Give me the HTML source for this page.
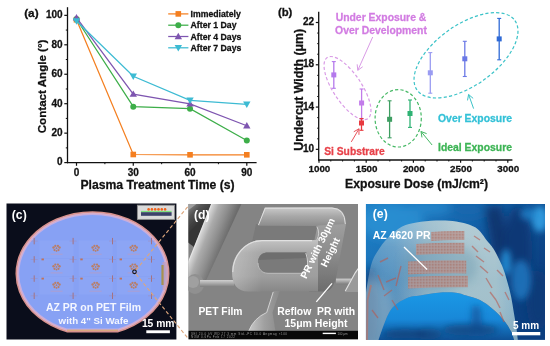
<!DOCTYPE html>
<html><head><meta charset="utf-8"><title>Figure</title>
<style>html,body{margin:0;padding:0;background:#fff;}svg{display:block;}</style></head>
<body><svg width="550" height="346" viewBox="0 0 550 346" font-family="Liberation Sans, Arial, sans-serif" font-weight="bold">
<rect width="550" height="346" fill="#fff"/>
<g>
<line x1="67.50" y1="7.20" x2="67.50" y2="163.20" stroke="#111" stroke-width="1.3" />
<line x1="66.90" y1="162.60" x2="256.60" y2="162.60" stroke="#111" stroke-width="1.3" />
<line x1="64.30" y1="162.60" x2="67.50" y2="162.60" stroke="#111" stroke-width="1.2" />
<text x="62.60" y="165.40" font-size="10.0" fill="#111" text-anchor="end" stroke="#111" stroke-width="0.28" >0</text>
<line x1="64.30" y1="133.15" x2="67.50" y2="133.15" stroke="#111" stroke-width="1.2" />
<text x="62.60" y="135.95" font-size="10.0" fill="#111" text-anchor="end" stroke="#111" stroke-width="0.28" >20</text>
<line x1="64.30" y1="103.70" x2="67.50" y2="103.70" stroke="#111" stroke-width="1.2" />
<text x="62.60" y="106.50" font-size="10.0" fill="#111" text-anchor="end" stroke="#111" stroke-width="0.28" >40</text>
<line x1="64.30" y1="74.25" x2="67.50" y2="74.25" stroke="#111" stroke-width="1.2" />
<text x="62.60" y="77.05" font-size="10.0" fill="#111" text-anchor="end" stroke="#111" stroke-width="0.28" >60</text>
<line x1="64.30" y1="44.80" x2="67.50" y2="44.80" stroke="#111" stroke-width="1.2" />
<text x="62.60" y="47.60" font-size="10.0" fill="#111" text-anchor="end" stroke="#111" stroke-width="0.28" >80</text>
<line x1="64.30" y1="15.35" x2="67.50" y2="15.35" stroke="#111" stroke-width="1.2" />
<text x="62.60" y="18.15" font-size="10.0" fill="#111" text-anchor="end" stroke="#111" stroke-width="0.28" >100</text>
<line x1="65.80" y1="147.88" x2="67.50" y2="147.88" stroke="#111" stroke-width="1.0" />
<line x1="65.80" y1="118.42" x2="67.50" y2="118.42" stroke="#111" stroke-width="1.0" />
<line x1="65.80" y1="88.97" x2="67.50" y2="88.97" stroke="#111" stroke-width="1.0" />
<line x1="65.80" y1="59.53" x2="67.50" y2="59.53" stroke="#111" stroke-width="1.0" />
<line x1="65.80" y1="30.07" x2="67.50" y2="30.07" stroke="#111" stroke-width="1.0" />
<line x1="76.50" y1="162.60" x2="76.50" y2="165.80" stroke="#111" stroke-width="1.2" />
<text x="76.50" y="175.90" font-size="10.0" fill="#111" text-anchor="middle" stroke="#111" stroke-width="0.28" >0</text>
<line x1="133.27" y1="162.60" x2="133.27" y2="165.80" stroke="#111" stroke-width="1.2" />
<text x="133.27" y="175.90" font-size="10.0" fill="#111" text-anchor="middle" stroke="#111" stroke-width="0.28" >30</text>
<line x1="190.03" y1="162.60" x2="190.03" y2="165.80" stroke="#111" stroke-width="1.2" />
<text x="190.03" y="175.90" font-size="10.0" fill="#111" text-anchor="middle" stroke="#111" stroke-width="0.28" >60</text>
<line x1="246.80" y1="162.60" x2="246.80" y2="165.80" stroke="#111" stroke-width="1.2" />
<text x="246.80" y="175.90" font-size="10.0" fill="#111" text-anchor="middle" stroke="#111" stroke-width="0.28" >90</text>
<line x1="104.88" y1="162.60" x2="104.88" y2="164.20" stroke="#111" stroke-width="1.0" />
<line x1="161.65" y1="162.60" x2="161.65" y2="164.20" stroke="#111" stroke-width="1.0" />
<line x1="218.42" y1="162.60" x2="218.42" y2="164.20" stroke="#111" stroke-width="1.0" />
<text x="157.50" y="189.00" font-size="12.2" fill="#111" text-anchor="middle" stroke="#111" stroke-width="0.28" >Plasma Treatment Time (s)</text>
<text x="46.10" y="86.40" font-size="11.6" fill="#111" text-anchor="middle" stroke="#111" stroke-width="0.28" transform="rotate(-90 46.1 86.4)">Contact Angle (°)</text>
<text x="24.20" y="16.50" font-size="11.8" fill="#111" text-anchor="start" stroke="#111" stroke-width="0.28" >(a)</text>
<polyline points="76.50,19.77 133.27,154.50 190.03,154.80 246.80,154.80" fill="none" stroke="#F47F20" stroke-width="1.25"/>
<rect x="73.70" y="16.97" width="5.6" height="5.6" fill="#F47F20"/>
<rect x="130.47" y="151.70" width="5.6" height="5.6" fill="#F47F20"/>
<rect x="187.23" y="152.00" width="5.6" height="5.6" fill="#F47F20"/>
<rect x="244.00" y="152.00" width="5.6" height="5.6" fill="#F47F20"/>
<polyline points="76.50,19.03 133.27,106.64 190.03,108.71 246.80,140.51" fill="none" stroke="#3DAE49" stroke-width="1.25"/>
<circle cx="76.50" cy="19.03" r="3.00" fill="#3DAE49"/>
<circle cx="133.27" cy="106.64" r="3.00" fill="#3DAE49"/>
<circle cx="190.03" cy="108.71" r="3.00" fill="#3DAE49"/>
<circle cx="246.80" cy="140.51" r="3.00" fill="#3DAE49"/>
<polyline points="76.50,17.71 133.27,94.13 190.03,103.85 246.80,125.79" fill="none" stroke="#7E55B0" stroke-width="1.25"/>
<polygon points="76.50,14.01 80.20,20.41 72.80,20.41" fill="#7E55B0"/>
<polygon points="133.27,90.43 136.97,96.83 129.57,96.83" fill="#7E55B0"/>
<polygon points="190.03,100.15 193.73,106.55 186.33,106.55" fill="#7E55B0"/>
<polygon points="246.80,122.09 250.50,128.49 243.10,128.49" fill="#7E55B0"/>
<polyline points="76.50,20.95 133.27,76.31 190.03,100.31 246.80,104.29" fill="none" stroke="#3DBBD3" stroke-width="1.25"/>
<polygon points="76.50,24.65 80.20,18.25 72.80,18.25" fill="#3DBBD3"/>
<polygon points="133.27,80.01 136.97,73.61 129.57,73.61" fill="#3DBBD3"/>
<polygon points="190.03,104.01 193.73,97.61 186.33,97.61" fill="#3DBBD3"/>
<polygon points="246.80,107.99 250.50,101.59 243.10,101.59" fill="#3DBBD3"/>
<line x1="168.20" y1="13.90" x2="188.40" y2="13.90" stroke="#F47F20" stroke-width="1.25" />
<rect x="175.50" y="11.10" width="5.6" height="5.6" fill="#F47F20"/>
<text x="190.60" y="17.00" font-size="8.7" fill="#111" text-anchor="start" stroke="#111" stroke-width="0.28" >Immediately</text>
<line x1="168.20" y1="25.20" x2="188.40" y2="25.20" stroke="#3DAE49" stroke-width="1.25" />
<circle cx="178.30" cy="25.20" r="3.00" fill="#3DAE49"/>
<text x="190.60" y="28.30" font-size="8.7" fill="#111" text-anchor="start" stroke="#111" stroke-width="0.28" >After 1 Day</text>
<line x1="168.20" y1="36.50" x2="188.40" y2="36.50" stroke="#7E55B0" stroke-width="1.25" />
<polygon points="178.30,32.80 182.00,39.20 174.60,39.20" fill="#7E55B0"/>
<text x="190.60" y="39.60" font-size="8.7" fill="#111" text-anchor="start" stroke="#111" stroke-width="0.28" >After 4 Days</text>
<line x1="168.20" y1="47.80" x2="188.40" y2="47.80" stroke="#3DBBD3" stroke-width="1.25" />
<polygon points="178.30,51.50 182.00,45.10 174.60,45.10" fill="#3DBBD3"/>
<text x="190.60" y="50.90" font-size="8.7" fill="#111" text-anchor="start" stroke="#111" stroke-width="0.28" >After 7 Days</text>
</g>
<line x1="318.70" y1="11.70" x2="318.70" y2="160.60" stroke="#111" stroke-width="1.3" />
<line x1="318.10" y1="160.00" x2="512.40" y2="160.00" stroke="#111" stroke-width="1.3" />
<line x1="315.80" y1="149.34" x2="318.70" y2="149.34" stroke="#111" stroke-width="1.2" />
<text x="314.00" y="151.84" font-size="10.0" fill="#111" text-anchor="end" stroke="#111" stroke-width="0.28" >10</text>
<line x1="317.20" y1="138.77" x2="318.70" y2="138.77" stroke="#111" stroke-width="1.0" />
<line x1="317.20" y1="128.20" x2="318.70" y2="128.20" stroke="#111" stroke-width="1.0" />
<line x1="317.20" y1="117.63" x2="318.70" y2="117.63" stroke="#111" stroke-width="1.0" />
<line x1="315.80" y1="107.06" x2="318.70" y2="107.06" stroke="#111" stroke-width="1.2" />
<text x="314.00" y="109.56" font-size="10.0" fill="#111" text-anchor="end" stroke="#111" stroke-width="0.28" >14</text>
<line x1="317.20" y1="96.49" x2="318.70" y2="96.49" stroke="#111" stroke-width="1.0" />
<line x1="317.20" y1="85.92" x2="318.70" y2="85.92" stroke="#111" stroke-width="1.0" />
<line x1="317.20" y1="75.35" x2="318.70" y2="75.35" stroke="#111" stroke-width="1.0" />
<line x1="315.80" y1="64.78" x2="318.70" y2="64.78" stroke="#111" stroke-width="1.2" />
<text x="314.00" y="67.28" font-size="10.0" fill="#111" text-anchor="end" stroke="#111" stroke-width="0.28" >18</text>
<line x1="317.20" y1="54.21" x2="318.70" y2="54.21" stroke="#111" stroke-width="1.0" />
<line x1="317.20" y1="43.64" x2="318.70" y2="43.64" stroke="#111" stroke-width="1.0" />
<line x1="317.20" y1="33.07" x2="318.70" y2="33.07" stroke="#111" stroke-width="1.0" />
<line x1="315.80" y1="22.50" x2="318.70" y2="22.50" stroke="#111" stroke-width="1.2" />
<text x="314.00" y="25.00" font-size="10.0" fill="#111" text-anchor="end" stroke="#111" stroke-width="0.28" >22</text>
<line x1="319.00" y1="160.00" x2="319.00" y2="162.80" stroke="#111" stroke-width="1.2" />
<text x="319.40" y="172.10" font-size="9.8" fill="#111" text-anchor="middle" stroke="#111" stroke-width="0.28" >1000</text>
<line x1="330.80" y1="160.00" x2="330.80" y2="161.50" stroke="#111" stroke-width="1.0" />
<line x1="342.60" y1="160.00" x2="342.60" y2="161.50" stroke="#111" stroke-width="1.0" />
<line x1="354.40" y1="160.00" x2="354.40" y2="161.50" stroke="#111" stroke-width="1.0" />
<line x1="366.20" y1="160.00" x2="366.20" y2="162.80" stroke="#111" stroke-width="1.2" />
<text x="366.60" y="172.10" font-size="9.8" fill="#111" text-anchor="middle" stroke="#111" stroke-width="0.28" >1500</text>
<line x1="378.00" y1="160.00" x2="378.00" y2="161.50" stroke="#111" stroke-width="1.0" />
<line x1="389.80" y1="160.00" x2="389.80" y2="161.50" stroke="#111" stroke-width="1.0" />
<line x1="401.60" y1="160.00" x2="401.60" y2="161.50" stroke="#111" stroke-width="1.0" />
<line x1="413.40" y1="160.00" x2="413.40" y2="162.80" stroke="#111" stroke-width="1.2" />
<text x="413.80" y="172.10" font-size="9.8" fill="#111" text-anchor="middle" stroke="#111" stroke-width="0.28" >2000</text>
<line x1="425.20" y1="160.00" x2="425.20" y2="161.50" stroke="#111" stroke-width="1.0" />
<line x1="437.00" y1="160.00" x2="437.00" y2="161.50" stroke="#111" stroke-width="1.0" />
<line x1="448.80" y1="160.00" x2="448.80" y2="161.50" stroke="#111" stroke-width="1.0" />
<line x1="460.60" y1="160.00" x2="460.60" y2="162.80" stroke="#111" stroke-width="1.2" />
<text x="461.00" y="172.10" font-size="9.8" fill="#111" text-anchor="middle" stroke="#111" stroke-width="0.28" >2500</text>
<line x1="472.40" y1="160.00" x2="472.40" y2="161.50" stroke="#111" stroke-width="1.0" />
<line x1="484.20" y1="160.00" x2="484.20" y2="161.50" stroke="#111" stroke-width="1.0" />
<line x1="496.00" y1="160.00" x2="496.00" y2="161.50" stroke="#111" stroke-width="1.0" />
<line x1="507.80" y1="160.00" x2="507.80" y2="162.80" stroke="#111" stroke-width="1.2" />
<text x="508.20" y="172.10" font-size="9.8" fill="#111" text-anchor="middle" stroke="#111" stroke-width="0.28" >3000</text>
<text x="416.50" y="188.20" font-size="12.2" fill="#111" text-anchor="middle" stroke="#111" stroke-width="0.28" >Exposure Dose (mJ/cm²)</text>
<text x="303.40" y="89.80" font-size="12.35" fill="#111" text-anchor="middle" stroke="#111" stroke-width="0.28" transform="rotate(-90 303.4 89.8)">Undercut Width (μm)</text>
<text x="277.90" y="15.50" font-size="11.3" fill="#111" text-anchor="start" stroke="#111" stroke-width="0.28" >(b)</text>
<ellipse cx="347.5" cy="88.1" rx="36.7" ry="14.2" transform="rotate(56.5 347.5 88.1)" fill="none" stroke="#D99BE6" stroke-width="1.2" stroke-dasharray="3.2 2.2"/>
<ellipse cx="398.2" cy="118.3" rx="23.1" ry="28.7" fill="none" stroke="#45B864" stroke-width="1.2" stroke-dasharray="3.2 2.2"/>
<ellipse cx="466" cy="55.3" rx="60" ry="30.4" transform="rotate(-35.4 466 55.3)" fill="none" stroke="#3CC3C8" stroke-width="1.2" stroke-dasharray="3.2 2.2"/>
<line x1="333.80" y1="61.60" x2="333.80" y2="88.30" stroke="#B479EC" stroke-width="1.3" />
<line x1="331.80" y1="61.60" x2="335.80" y2="61.60" stroke="#B479EC" stroke-width="1.1" />
<line x1="331.80" y1="88.30" x2="335.80" y2="88.30" stroke="#B479EC" stroke-width="1.1" />
<rect x="331.30" y="72.40" width="5" height="5" fill="#B479EC"/>
<line x1="361.60" y1="89.00" x2="361.60" y2="118.80" stroke="#C27BEA" stroke-width="1.3" />
<line x1="359.60" y1="89.00" x2="363.60" y2="89.00" stroke="#C27BEA" stroke-width="1.1" />
<line x1="359.60" y1="118.80" x2="363.60" y2="118.80" stroke="#C27BEA" stroke-width="1.1" />
<rect x="359.10" y="100.50" width="5" height="5" fill="#C27BEA"/>
<line x1="361.50" y1="118.50" x2="361.50" y2="130.30" stroke="#E83A3F" stroke-width="1.3" />
<line x1="359.50" y1="118.50" x2="363.50" y2="118.50" stroke="#E83A3F" stroke-width="1.1" />
<line x1="359.50" y1="130.30" x2="363.50" y2="130.30" stroke="#E83A3F" stroke-width="1.1" />
<rect x="359.00" y="120.50" width="5" height="5" fill="#E83A3F"/>
<line x1="389.60" y1="100.80" x2="389.60" y2="137.80" stroke="#3E9E62" stroke-width="1.3" />
<line x1="387.60" y1="100.80" x2="391.60" y2="100.80" stroke="#3E9E62" stroke-width="1.1" />
<line x1="387.60" y1="137.80" x2="391.60" y2="137.80" stroke="#3E9E62" stroke-width="1.1" />
<rect x="387.10" y="116.80" width="5" height="5" fill="#3E9E62"/>
<line x1="410.00" y1="100.00" x2="410.00" y2="127.40" stroke="#2FB274" stroke-width="1.3" />
<line x1="408.00" y1="100.00" x2="412.00" y2="100.00" stroke="#2FB274" stroke-width="1.1" />
<line x1="408.00" y1="127.40" x2="412.00" y2="127.40" stroke="#2FB274" stroke-width="1.1" />
<rect x="407.50" y="111.00" width="5" height="5" fill="#2FB274"/>
<line x1="430.30" y1="52.60" x2="430.30" y2="93.20" stroke="#9A9CF2" stroke-width="1.3" />
<line x1="428.30" y1="52.60" x2="432.30" y2="52.60" stroke="#9A9CF2" stroke-width="1.1" />
<line x1="428.30" y1="93.20" x2="432.30" y2="93.20" stroke="#9A9CF2" stroke-width="1.1" />
<rect x="427.80" y="70.30" width="5" height="5" fill="#9A9CF2"/>
<line x1="464.80" y1="41.30" x2="464.80" y2="76.50" stroke="#6A78E6" stroke-width="1.3" />
<line x1="462.80" y1="41.30" x2="466.80" y2="41.30" stroke="#6A78E6" stroke-width="1.1" />
<line x1="462.80" y1="76.50" x2="466.80" y2="76.50" stroke="#6A78E6" stroke-width="1.1" />
<rect x="462.30" y="56.30" width="5" height="5" fill="#6A78E6"/>
<line x1="499.20" y1="18.40" x2="499.20" y2="59.80" stroke="#2F6AD6" stroke-width="1.3" />
<line x1="497.20" y1="18.40" x2="501.20" y2="18.40" stroke="#2F6AD6" stroke-width="1.1" />
<line x1="497.20" y1="59.80" x2="501.20" y2="59.80" stroke="#2F6AD6" stroke-width="1.1" />
<rect x="496.70" y="36.40" width="5" height="5" fill="#2F6AD6"/>
<text x="381.00" y="20.60" font-size="10.4" fill="#D27CE2" text-anchor="middle" stroke="#D27CE2" stroke-width="0.28" >Under Exposure &amp;</text>
<text x="381.00" y="34.00" font-size="10.4" fill="#D27CE2" text-anchor="middle" stroke="#D27CE2" stroke-width="0.28" >Over Development</text>
<text x="354.50" y="155.40" font-size="10.3" fill="#E8424A" text-anchor="middle" stroke="#E8424A" stroke-width="0.28" >Si Substrare</text>
<text x="475.00" y="122.00" font-size="10.4" fill="#33C1D7" text-anchor="middle" stroke="#33C1D7" stroke-width="0.28" >Over Exposure</text>
<text x="475.00" y="151.10" font-size="10.4" fill="#3DB455" text-anchor="middle" stroke="#3DB455" stroke-width="0.28" >Ideal Exposure</text>
<line x1="372.70" y1="37.00" x2="357.80" y2="70.30" stroke="#D99BE6" stroke-width="1.0" />
<line x1="357.80" y1="70.30" x2="357.18" y2="64.33" stroke="#D99BE6" stroke-width="1.0" />
<line x1="357.80" y1="70.30" x2="362.66" y2="66.78" stroke="#D99BE6" stroke-width="1.0" />
<line x1="351.30" y1="141.90" x2="359.00" y2="128.80" stroke="#E8525A" stroke-width="1.0" />
<line x1="359.00" y1="128.80" x2="358.95" y2="134.80" stroke="#E8525A" stroke-width="1.0" />
<line x1="359.00" y1="128.80" x2="353.78" y2="131.76" stroke="#E8525A" stroke-width="1.0" />
<line x1="473.60" y1="108.60" x2="468.60" y2="94.50" stroke="#3CC3C8" stroke-width="1.0" />
<line x1="468.60" y1="94.50" x2="473.16" y2="98.39" stroke="#3CC3C8" stroke-width="1.0" />
<line x1="468.60" y1="94.50" x2="467.51" y2="100.40" stroke="#3CC3C8" stroke-width="1.0" />
<line x1="432.10" y1="145.00" x2="421.00" y2="131.50" stroke="#45B864" stroke-width="1.0" />
<line x1="421.00" y1="131.50" x2="426.62" y2="133.61" stroke="#45B864" stroke-width="1.0" />
<line x1="421.00" y1="131.50" x2="421.98" y2="137.42" stroke="#45B864" stroke-width="1.0" />
<rect x="6.5" y="203.5" width="169.9" height="136" fill="#0A0D1B"/>
<clipPath id="cc"><rect x="6.5" y="203.5" width="169.9" height="136"/></clipPath>
<clipPath id="wafer"><path d="M67,330.8 L118,330.8 A75.4,60.8 0 1 0 67,330.8 Z"/></clipPath>
<filter id="blc" x="-10%" y="-10%" width="120%" height="120%"><feGaussianBlur stdDeviation="0.5"/></filter>
<g clip-path="url(#cc)">
<path d="M67,330.8 L118,330.8 A75.4,60.8 0 1 0 67,330.8 Z" fill="#87A1F4" stroke="#D8928E" stroke-width="3.2" filter="url(#blc)"/>
<g clip-path="url(#wafer)">
<path d="M67,330.8 L118,330.8 A75.4,60.8 0 1 0 67,330.8 Z" fill="none" stroke="#C8B4EC" stroke-width="4.4" opacity="0.75"/><path d="M67,330.8 L118,330.8 A75.4,60.8 0 1 0 67,330.8 Z" fill="none" stroke="#E0B0C0" stroke-width="1.6" opacity="0.9"/>
<path d="M162.5,262 L168,262 L168,290 L162.5,290 Z" fill="#C8A0B8" opacity="0.7"/><rect x="161.4" y="265" width="2.2" height="20" fill="#A89040" opacity="0.9"/>
<rect x="39.5" y="240.5" width="34" height="17.5" fill="#96ACF6" opacity="0.35"/>
<rect x="39.5" y="258.9" width="34" height="17.5" fill="#96ACF6" opacity="0.35"/>
<rect x="39.5" y="277.0" width="34" height="17.5" fill="#96ACF6" opacity="0.35"/>
<rect x="78.6" y="240.5" width="34" height="17.5" fill="#96ACF6" opacity="0.35"/>
<rect x="78.6" y="258.9" width="34" height="17.5" fill="#96ACF6" opacity="0.35"/>
<rect x="78.6" y="277.0" width="34" height="17.5" fill="#96ACF6" opacity="0.35"/>
<rect x="116.69999999999999" y="240.5" width="34" height="17.5" fill="#96ACF6" opacity="0.35"/>
<rect x="116.69999999999999" y="258.9" width="34" height="17.5" fill="#96ACF6" opacity="0.35"/>
<rect x="116.69999999999999" y="277.0" width="34" height="17.5" fill="#96ACF6" opacity="0.35"/>
<line x1="34.2" y1="237.9" x2="34.2" y2="244.29999999999998" stroke="#A86A6E" stroke-width="1" opacity="0.85"/><line x1="30.700000000000003" y1="241.1" x2="37.7" y2="241.1" stroke="#B08090" stroke-width="0.6" opacity="0.55"/>
<line x1="34.2" y1="256.2" x2="34.2" y2="262.59999999999997" stroke="#A86A6E" stroke-width="1" opacity="0.85"/><line x1="30.700000000000003" y1="259.4" x2="37.7" y2="259.4" stroke="#B08090" stroke-width="0.6" opacity="0.55"/>
<line x1="34.2" y1="275.40000000000003" x2="34.2" y2="281.8" stroke="#A86A6E" stroke-width="1" opacity="0.85"/><line x1="30.700000000000003" y1="278.6" x2="37.7" y2="278.6" stroke="#B08090" stroke-width="0.6" opacity="0.55"/>
<line x1="34.2" y1="292.6" x2="34.2" y2="299.0" stroke="#A86A6E" stroke-width="1" opacity="0.85"/><line x1="30.700000000000003" y1="295.8" x2="37.7" y2="295.8" stroke="#B08090" stroke-width="0.6" opacity="0.55"/>
<line x1="73.1" y1="237.9" x2="73.1" y2="244.29999999999998" stroke="#A86A6E" stroke-width="1" opacity="0.85"/><line x1="69.6" y1="241.1" x2="76.6" y2="241.1" stroke="#B08090" stroke-width="0.6" opacity="0.55"/>
<line x1="73.1" y1="256.2" x2="73.1" y2="262.59999999999997" stroke="#A86A6E" stroke-width="1" opacity="0.85"/><line x1="69.6" y1="259.4" x2="76.6" y2="259.4" stroke="#B08090" stroke-width="0.6" opacity="0.55"/>
<line x1="73.1" y1="275.40000000000003" x2="73.1" y2="281.8" stroke="#A86A6E" stroke-width="1" opacity="0.85"/><line x1="69.6" y1="278.6" x2="76.6" y2="278.6" stroke="#B08090" stroke-width="0.6" opacity="0.55"/>
<line x1="73.1" y1="292.6" x2="73.1" y2="299.0" stroke="#A86A6E" stroke-width="1" opacity="0.85"/><line x1="69.6" y1="295.8" x2="76.6" y2="295.8" stroke="#B08090" stroke-width="0.6" opacity="0.55"/>
<line x1="112.5" y1="237.9" x2="112.5" y2="244.29999999999998" stroke="#A86A6E" stroke-width="1" opacity="0.85"/><line x1="109.0" y1="241.1" x2="116.0" y2="241.1" stroke="#B08090" stroke-width="0.6" opacity="0.55"/>
<line x1="112.5" y1="256.2" x2="112.5" y2="262.59999999999997" stroke="#A86A6E" stroke-width="1" opacity="0.85"/><line x1="109.0" y1="259.4" x2="116.0" y2="259.4" stroke="#B08090" stroke-width="0.6" opacity="0.55"/>
<line x1="112.5" y1="275.40000000000003" x2="112.5" y2="281.8" stroke="#A86A6E" stroke-width="1" opacity="0.85"/><line x1="109.0" y1="278.6" x2="116.0" y2="278.6" stroke="#B08090" stroke-width="0.6" opacity="0.55"/>
<line x1="112.5" y1="292.6" x2="112.5" y2="299.0" stroke="#A86A6E" stroke-width="1" opacity="0.85"/><line x1="109.0" y1="295.8" x2="116.0" y2="295.8" stroke="#B08090" stroke-width="0.6" opacity="0.55"/>
<line x1="151.5" y1="237.9" x2="151.5" y2="244.29999999999998" stroke="#A86A6E" stroke-width="1" opacity="0.85"/><line x1="148.0" y1="241.1" x2="155.0" y2="241.1" stroke="#B08090" stroke-width="0.6" opacity="0.55"/>
<line x1="151.5" y1="256.2" x2="151.5" y2="262.59999999999997" stroke="#A86A6E" stroke-width="1" opacity="0.85"/><line x1="148.0" y1="259.4" x2="155.0" y2="259.4" stroke="#B08090" stroke-width="0.6" opacity="0.55"/>
<line x1="151.5" y1="275.40000000000003" x2="151.5" y2="281.8" stroke="#A86A6E" stroke-width="1" opacity="0.85"/><line x1="148.0" y1="278.6" x2="155.0" y2="278.6" stroke="#B08090" stroke-width="0.6" opacity="0.55"/>
<line x1="151.5" y1="292.6" x2="151.5" y2="299.0" stroke="#A86A6E" stroke-width="1" opacity="0.85"/><line x1="148.0" y1="295.8" x2="155.0" y2="295.8" stroke="#B08090" stroke-width="0.6" opacity="0.55"/>
<rect x="41.5" y="258.5" width="2.4" height="1.8" fill="#C8683E" opacity="0.85"/>
<rect x="41.5" y="277.70000000000005" width="2.4" height="1.8" fill="#C8683E" opacity="0.85"/>
<rect x="80.3" y="258.5" width="2.4" height="1.8" fill="#C8683E" opacity="0.85"/>
<rect x="80.3" y="277.70000000000005" width="2.4" height="1.8" fill="#C8683E" opacity="0.85"/>
<rect x="119.6" y="258.5" width="2.4" height="1.8" fill="#C8683E" opacity="0.85"/>
<rect x="119.6" y="277.70000000000005" width="2.4" height="1.8" fill="#C8683E" opacity="0.85"/>
<g fill="#BE7A58" opacity="0.9"><circle cx="53.5" cy="247.5" r="1.2"/><circle cx="59.5" cy="247.5" r="1.2"/><circle cx="55.3" cy="245.9" r="1.1"/><circle cx="57.9" cy="245.9" r="1.1"/><circle cx="54.5" cy="250.1" r="1.1"/><circle cx="58.5" cy="250.1" r="1.1"/><circle cx="56.5" cy="250.9" r="0.9"/><circle cx="56.5" cy="248.2" r="0.9"/></g>
<rect x="50.5" y="253.7" width="12" height="1" fill="#C49AB8" opacity="0.6"/>
<g fill="#BE7A58" opacity="0.9"><circle cx="53.5" cy="266.2" r="1.2"/><circle cx="59.5" cy="266.2" r="1.2"/><circle cx="55.3" cy="264.59999999999997" r="1.1"/><circle cx="57.9" cy="264.59999999999997" r="1.1"/><circle cx="54.5" cy="268.8" r="1.1"/><circle cx="58.5" cy="268.8" r="1.1"/><circle cx="56.5" cy="269.59999999999997" r="0.9"/><circle cx="56.5" cy="266.9" r="0.9"/></g>
<rect x="50.5" y="272.4" width="12" height="1" fill="#C49AB8" opacity="0.6"/>
<g fill="#BE7A58" opacity="0.9"><circle cx="53.5" cy="284.5" r="1.2"/><circle cx="59.5" cy="284.5" r="1.2"/><circle cx="55.3" cy="282.9" r="1.1"/><circle cx="57.9" cy="282.9" r="1.1"/><circle cx="54.5" cy="287.1" r="1.1"/><circle cx="58.5" cy="287.1" r="1.1"/><circle cx="56.5" cy="287.9" r="0.9"/><circle cx="56.5" cy="285.2" r="0.9"/></g>
<rect x="50.5" y="290.7" width="12" height="1" fill="#C49AB8" opacity="0.6"/>
<g fill="#BE7A58" opacity="0.9"><circle cx="92.6" cy="247.5" r="1.2"/><circle cx="98.6" cy="247.5" r="1.2"/><circle cx="94.39999999999999" cy="245.9" r="1.1"/><circle cx="97.0" cy="245.9" r="1.1"/><circle cx="93.6" cy="250.1" r="1.1"/><circle cx="97.6" cy="250.1" r="1.1"/><circle cx="95.6" cy="250.9" r="0.9"/><circle cx="95.6" cy="248.2" r="0.9"/></g>
<rect x="89.6" y="253.7" width="12" height="1" fill="#C49AB8" opacity="0.6"/>
<g fill="#BE7A58" opacity="0.9"><circle cx="92.6" cy="266.2" r="1.2"/><circle cx="98.6" cy="266.2" r="1.2"/><circle cx="94.39999999999999" cy="264.59999999999997" r="1.1"/><circle cx="97.0" cy="264.59999999999997" r="1.1"/><circle cx="93.6" cy="268.8" r="1.1"/><circle cx="97.6" cy="268.8" r="1.1"/><circle cx="95.6" cy="269.59999999999997" r="0.9"/><circle cx="95.6" cy="266.9" r="0.9"/></g>
<rect x="89.6" y="272.4" width="12" height="1" fill="#C49AB8" opacity="0.6"/>
<g fill="#BE7A58" opacity="0.9"><circle cx="92.6" cy="284.5" r="1.2"/><circle cx="98.6" cy="284.5" r="1.2"/><circle cx="94.39999999999999" cy="282.9" r="1.1"/><circle cx="97.0" cy="282.9" r="1.1"/><circle cx="93.6" cy="287.1" r="1.1"/><circle cx="97.6" cy="287.1" r="1.1"/><circle cx="95.6" cy="287.9" r="0.9"/><circle cx="95.6" cy="285.2" r="0.9"/></g>
<rect x="89.6" y="290.7" width="12" height="1" fill="#C49AB8" opacity="0.6"/>
<g fill="#BE7A58" opacity="0.9"><circle cx="130.7" cy="247.5" r="1.2"/><circle cx="136.7" cy="247.5" r="1.2"/><circle cx="132.5" cy="245.9" r="1.1"/><circle cx="135.1" cy="245.9" r="1.1"/><circle cx="131.7" cy="250.1" r="1.1"/><circle cx="135.7" cy="250.1" r="1.1"/><circle cx="133.7" cy="250.9" r="0.9"/><circle cx="133.7" cy="248.2" r="0.9"/></g>
<rect x="127.69999999999999" y="253.7" width="12" height="1" fill="#C49AB8" opacity="0.6"/>
<g fill="#BE7A58" opacity="0.9"><circle cx="130.7" cy="266.2" r="1.2"/><circle cx="136.7" cy="266.2" r="1.2"/><circle cx="132.5" cy="264.59999999999997" r="1.1"/><circle cx="135.1" cy="264.59999999999997" r="1.1"/><circle cx="131.7" cy="268.8" r="1.1"/><circle cx="135.7" cy="268.8" r="1.1"/><circle cx="133.7" cy="269.59999999999997" r="0.9"/><circle cx="133.7" cy="266.9" r="0.9"/></g>
<rect x="127.69999999999999" y="272.4" width="12" height="1" fill="#C49AB8" opacity="0.6"/>
<g fill="#BE7A58" opacity="0.9"><circle cx="130.7" cy="284.5" r="1.2"/><circle cx="136.7" cy="284.5" r="1.2"/><circle cx="132.5" cy="282.9" r="1.1"/><circle cx="135.1" cy="282.9" r="1.1"/><circle cx="131.7" cy="287.1" r="1.1"/><circle cx="135.7" cy="287.1" r="1.1"/><circle cx="133.7" cy="287.9" r="0.9"/><circle cx="133.7" cy="285.2" r="0.9"/></g>
<rect x="127.69999999999999" y="290.7" width="12" height="1" fill="#C49AB8" opacity="0.6"/>
</g>
<line x1="67" y1="330.2" x2="118" y2="330.2" stroke="#D8A860" stroke-width="1"/>
</g>
<line x1="136" y1="270" x2="189.9" y2="204" stroke="#DDA67C" stroke-width="1.15" stroke-dasharray="3.6 2.4"/>
<line x1="136" y1="274" x2="188.5" y2="339" stroke="#DDA67C" stroke-width="1.15" stroke-dasharray="3.6 2.4"/>
<circle cx="134.5" cy="271.8" r="1.8" fill="none" stroke="#111" stroke-width="1.1"/>
<text x="11.80" y="218.90" font-size="12.2" fill="#fff" text-anchor="start" >(c)</text>
<text x="93.50" y="311.10" font-size="10.5" fill="#F4F6FF" text-anchor="middle" >AZ PR on PET Film</text>
<text x="93.50" y="323.80" font-size="9.75" fill="#F4F6FF" text-anchor="middle" >with 4" Si Wafe</text>
<text x="158.20" y="327.30" font-size="10.3" fill="#fff" text-anchor="middle" >15 mm</text>
<rect x="146.3" y="330.3" width="23.6" height="2.9" fill="#fff"/>
<rect x="137.4" y="205.2" width="37.2" height="14.2" fill="#DADADA" stroke="#8E8E8E" stroke-width="0.9"/>
<circle cx="148.60" cy="209.4" r="1.3" fill="#F0621C"/>
<circle cx="151.90" cy="209.4" r="1.3" fill="#F0621C"/>
<circle cx="155.20" cy="209.4" r="1.3" fill="#F0621C"/>
<circle cx="158.50" cy="209.4" r="1.3" fill="#F0621C"/>
<circle cx="161.80" cy="209.4" r="1.3" fill="#F0621C"/>
<circle cx="165.10" cy="209.4" r="1.3" fill="#F0621C"/>
<rect x="141" y="210.9" width="30.6" height="1.3" fill="#7DE27D"/>
<rect x="141" y="212.2" width="30.6" height="3.6" fill="#3B4169"/>
<defs><linearGradient id="tubeg" gradientUnits="userSpaceOnUse" x1="199.50" y1="233.00" x2="224.11" y2="242.83"><stop offset="0" stop-color="#F0F0F0"/><stop offset="0.06" stop-color="#D4D4D4"/><stop offset="0.3" stop-color="#ABABAB"/><stop offset="0.65" stop-color="#8E8E8E"/><stop offset="1" stop-color="#6C6C6C"/></linearGradient><linearGradient id="barg" gradientUnits="userSpaceOnUse" x1="0" y1="208" x2="0" y2="226"><stop offset="0" stop-color="#C8C8C8"/><stop offset="0.45" stop-color="#A8A8A8"/><stop offset="1" stop-color="#8C8C8C"/></linearGradient><linearGradient id="bowlg" gradientUnits="userSpaceOnUse" x1="0" y1="240" x2="0" y2="292"><stop offset="0" stop-color="#C2C2C2"/><stop offset="0.25" stop-color="#A6A6A6"/><stop offset="0.7" stop-color="#9E9E9E"/><stop offset="1" stop-color="#868686"/></linearGradient><linearGradient id="bowlh" gradientUnits="userSpaceOnUse" x1="232" y1="0" x2="262" y2="0"><stop offset="0" stop-color="#ffffff" stop-opacity="0.25"/><stop offset="1" stop-color="#ffffff" stop-opacity="0"/></linearGradient><linearGradient id="stemg" gradientUnits="userSpaceOnUse" x1="0" y1="222" x2="0" y2="292"><stop offset="0" stop-color="#A0A0A0"/><stop offset="0.45" stop-color="#8C8C8C"/><stop offset="1" stop-color="#6C6C6C"/></linearGradient><linearGradient id="hbar" x1="0" y1="0" x2="0" y2="1"><stop offset="0" stop-color="#D0D0D0"/><stop offset="0.5" stop-color="#A8A8A8"/><stop offset="1" stop-color="#7E7E7E"/></linearGradient><linearGradient id="footg" x1="0" y1="0" x2="1" y2="0"><stop offset="0" stop-color="#C8C8C8"/><stop offset="0.5" stop-color="#A0A0A0"/><stop offset="1" stop-color="#8A8A8A"/></linearGradient><linearGradient id="darkg" gradientUnits="userSpaceOnUse" x1="189" y1="205" x2="203" y2="219"><stop offset="0" stop-color="#8A8A8A"/><stop offset="0.45" stop-color="#545454"/><stop offset="1" stop-color="#363636"/></linearGradient><filter id="bl1" x="-20%" y="-20%" width="140%" height="140%"><feGaussianBlur stdDeviation="0.7"/></filter><filter id="bl2" x="-20%" y="-20%" width="140%" height="140%"><feGaussianBlur stdDeviation="1.5"/></filter></defs>
<rect x="188.4" y="204" width="169.6" height="135.4" fill="#848484"/>
<clipPath id="dc"><rect x="188.4" y="204" width="169.6" height="135.4"/></clipPath>
<g clip-path="url(#dc)">
<g filter="url(#bl1)">
<polygon points="186,211 194,202 212,202 194,247 186,241" fill="url(#darkg)"/>
<polygon points="186,202 199,202 186,212" fill="#A0A0A0"/>
<polygon points="211.9,202 242.4,202 205.3,282 186,282 186,266.8" fill="url(#tubeg)"/>
<ellipse cx="195" cy="284" rx="9" ry="10" fill="#909090"/>
<ellipse cx="193" cy="282" rx="6" ry="6" fill="#A0A0A0"/>
<rect x="200" y="280" width="34" height="7" fill="url(#hbar)"/>
<path d="M256,224 L316,224 Q322,233 316,242 L252,242 Z" fill="#7A7A7A"/>
<path d="M257.9,225.8 L264.8,207.6 L332,207.4 Q345.5,208 346,224 L345.5,226 L317.5,226 Z" fill="url(#barg)"/>
<path d="M317.5,225.5 L346,224 L341.2,250 L337,273.3 Q334,290 326,291.5 L309,291.5 L309.2,265 Z" fill="url(#stemg)"/>
<path fill-rule="evenodd" d="M314,240 L262,240 C244,240 232,256 232,272 C232,285 238,291.5 248,291.5 L318,291.5 L318,240 Z M306.4,252.5 L268,252.5 C261,252.5 258,257 258,262.9 C258,269 262,273.3 268,273.3 L306.4,273.3 Z" fill="url(#bowlg)"/>
<path d="M262,240 C244,240 232,256 232,272 C232,285 238,291.5 248,291.5 L262,291.5 Z" fill="url(#bowlh)"/>
<path d="M306.4,252.5 L268,252.5 C261,252.5 258,257 258,262.9 C258,269 262,273.3 268,273.3 L306.4,273.3 Q310,263 306.4,252.5 Z" fill="#7A7A7A"/>
<path d="M306,252.8 L268,252.8 C262,252.8 259,256 258.5,260 L306,258 Z" fill="#6A6A6A" opacity="0.7"/>
<path d="M232.8,272 C233,256 245,240.8 262,240.6 L312,240.6" fill="none" stroke="#E4E4E4" stroke-width="1.1" opacity="0.9"/>
<path d="M258.5,225 L265.2,208.2 L332,208 Q344.8,208.6 345.3,224" fill="none" stroke="#E6E6E6" stroke-width="1" opacity="0.9"/>
<path d="M305.8,253 Q309.5,263 305.8,273" fill="none" stroke="#D0D0D0" stroke-width="1"/>
<path d="M316.8,226.5 Q320.5,233 316.8,240" fill="none" stroke="#D0D0D0" stroke-width="1"/>
<path d="M258,262.9 C258,269 262,273.3 268,273.3 L306,273.3" fill="none" stroke="#C4C4C4" stroke-width="0.9"/>
<rect x="336" y="278.6" width="16" height="5.6" fill="url(#hbar)"/>
<path d="M344.8,292 L355.2,272.3 L359,267 L359,292 Z" fill="#9A9A9A"/>
<path d="M345.3,291 L355.4,272.6 L359,267.5" fill="none" stroke="#E4E4E4" stroke-width="1.1"/>
<path d="M273.2,291 L279.7,291 L272.5,312.5 Q274,322 275.4,331 L248.7,331 Q254,318 266.7,312.5 Z" fill="url(#footg)"/><path d="M273.2,292 L266.7,312.5 Q254,318 248.7,331" fill="none" stroke="#D8D8D8" stroke-width="0.9"/>
</g>
<rect x="188.4" y="330.8" width="169.6" height="8.6" fill="#080808"/>
<text x="191" y="334.6" font-size="3" fill="#9A9A9A" font-weight="normal" textLength="96" lengthAdjust="spacing">SEI   20.0 kV   WD 27.3 mm   Std.-PC 30.0   Angmag   ×100</text>
<text x="191" y="338.1" font-size="3" fill="#9A9A9A" font-weight="normal" textLength="44" lengthAdjust="spacing">NOM   0.6Pa   Feb 17 2022</text>
</g>
<text x="194.00" y="218.70" font-size="12.2" fill="#fff" text-anchor="start" >(d)</text>
<text x="220.50" y="315.10" font-size="10.3" fill="#fff" text-anchor="middle" >PET Film</text>
<text x="316.20" y="315.00" font-size="10.4" fill="#fff" text-anchor="middle" xml:space="preserve">Reflow  PR with</text>
<text x="316.00" y="327.30" font-size="10.5" fill="#fff" text-anchor="middle" >15μm Height</text>
<line x1="316.3" y1="301.9" x2="332" y2="283.4" stroke="#fff" stroke-width="1.3"/>
<g transform="translate(317.5,248.1) rotate(-64)"><text x="0" y="3.6" font-size="10" fill="#fff" text-anchor="middle">PR with 30μm</text><text x="1.9" y="16.8" font-size="10" fill="#fff" text-anchor="middle">Height</text></g>
<rect x="322.7" y="332.7" width="13.2" height="1.4" fill="#fff"/>
<text x="337.5" y="334.6" font-size="3" fill="#9A9A9A" font-weight="normal" textLength="10" lengthAdjust="spacing">100 μm</text>
<defs><linearGradient id="ebg" x1="0" y1="0" x2="1" y2="0.5"><stop offset="0" stop-color="#1F80C6"/><stop offset="0.5" stop-color="#1464AC"/><stop offset="1" stop-color="#0B3F80"/></linearGradient><linearGradient id="filmg" x1="0" y1="0" x2="1" y2="0"><stop offset="0" stop-color="#9AB8CC" stop-opacity="0.35"/><stop offset="0.2" stop-color="#9CBCCC" stop-opacity="0.5"/><stop offset="0.4" stop-color="#A2C0CA" stop-opacity="0.85"/><stop offset="0.6" stop-color="#A8C4CC" stop-opacity="0.97"/><stop offset="0.85" stop-color="#A8C5CE" stop-opacity="0.97"/><stop offset="1" stop-color="#98C2D6" stop-opacity="0.9"/></linearGradient><linearGradient id="filmv" x1="0" y1="0" x2="0" y2="1"><stop offset="0" stop-color="#ffffff" stop-opacity="0.18"/><stop offset="0.5" stop-color="#ffffff" stop-opacity="0"/><stop offset="1" stop-color="#000000" stop-opacity="0.08"/></linearGradient><linearGradient id="underg" x1="0" y1="0" x2="0" y2="1"><stop offset="0" stop-color="#1A98E6"/><stop offset="0.55" stop-color="#1888D8"/><stop offset="1" stop-color="#0E4E92"/></linearGradient><filter id="bl3" x="-50%" y="-50%" width="200%" height="200%"><feGaussianBlur stdDeviation="3"/></filter><filter id="bl5" x="-50%" y="-50%" width="200%" height="200%"><feGaussianBlur stdDeviation="5"/></filter><filter id="bl1e" x="-20%" y="-20%" width="140%" height="140%"><feGaussianBlur stdDeviation="0.6"/></filter><pattern id="dots" width="1.5" height="1.5" patternUnits="userSpaceOnUse"><rect width="1.5" height="1.5" fill="#BA9C98"/><rect width="0.9" height="0.9" fill="#B06C5E"/></pattern></defs>
<rect x="365.9" y="204.0" width="179.1" height="135.9" fill="url(#ebg)"/>
<clipPath id="ecl"><rect x="365.9" y="204.0" width="179.1" height="135.9"/></clipPath>
<g clip-path="url(#ecl)">
<g filter="url(#bl5)">
<ellipse cx="392" cy="222" rx="32" ry="18" fill="#2B90D4" opacity="0.85"/>
<ellipse cx="430" cy="208" rx="22" ry="8" fill="#2A8ACE" opacity="0.7"/>
<ellipse cx="468" cy="210" rx="18" ry="8" fill="#1568AE" opacity="0.8"/>
<path d="M484,206 L502,206 L510,262 L494,262 Z" fill="#08306A" opacity="0.9"/>
<ellipse cx="518" cy="250" rx="14" ry="44" fill="#0A3876"/>
<ellipse cx="538" cy="300" rx="12" ry="30" fill="#0A3A78"/>
<ellipse cx="370" cy="305" rx="8" ry="40" fill="#0C4482"/>
</g>
<g filter="url(#bl3)">
<ellipse cx="540" cy="219" rx="8" ry="13" fill="#2E98DC"/>
<ellipse cx="528" cy="214" rx="8" ry="6" fill="#1F80C8" opacity="0.8"/>
<ellipse cx="521" cy="280" rx="10" ry="20" fill="#1C74BC" opacity="0.9"/>
<ellipse cx="506" cy="262" rx="5" ry="13" fill="#2590D8" opacity="0.9"/>
</g>
<path d="M514.5,341.0 C513.9,339.3 512.7,334.5 510.9,331.0 C509.1,327.5 506.6,323.7 503.6,320.0 C500.6,316.3 496.6,312.3 492.7,309.0 C488.8,305.7 484.5,302.3 480.0,300.0 C475.5,297.7 469.5,296.5 465.5,295.3 C461.5,294.1 460.6,293.1 456.0,292.7 C451.4,292.3 444.0,292.2 438.0,292.7 C432.0,293.2 425.2,294.6 420.0,295.5 C414.8,296.4 411.4,295.8 406.5,298.3 C401.6,300.8 395.1,303.4 390.3,310.5 C385.6,317.6 380.1,335.9 378.0,341.0 Z" fill="url(#underg)"/>
<g filter="url(#bl3)"><ellipse cx="470" cy="330" rx="28" ry="6" fill="#0C3A70" opacity="0.6"/><ellipse cx="405" cy="334" rx="22" ry="5" fill="#0B3A72" opacity="0.7"/><path d="M472,306 L480,306 L484,336 L470,336 Z" fill="#0D4A8E" opacity="0.6"/><ellipse cx="428" cy="334" rx="14" ry="6" fill="#0B3A72" opacity="0.6"/></g>
<path d="M365.0,300.0 C365.5,296.7 366.9,286.2 368.0,280.0 C369.1,273.8 370.2,267.5 371.8,262.7 C373.4,257.9 375.0,255.3 377.6,251.2 C380.2,247.1 383.6,242.1 387.7,238.0 C391.8,233.9 397.4,229.2 402.2,226.6 C407.0,224.0 411.0,223.5 416.6,222.5 C422.2,221.5 429.4,220.7 436.0,220.5 C442.6,220.3 449.4,220.3 456.0,221.5 C462.6,222.7 470.4,224.3 475.6,227.6 C480.8,230.9 484.3,237.6 487.4,241.3 C490.5,245.0 491.8,245.9 494.2,250.0 C496.6,254.1 499.8,260.4 502.0,265.6 C504.2,270.8 505.7,276.1 507.2,281.3 C508.7,286.5 510.1,291.7 511.2,296.9 C512.3,302.1 512.9,307.3 513.8,312.5 C514.7,317.7 515.7,323.2 516.4,328.0 C517.1,332.8 517.7,338.8 518.0,341.0 L514.5,341.0 C513.9,339.3 512.7,334.5 510.9,331.0 C509.1,327.5 506.6,323.7 503.6,320.0 C500.6,316.3 496.6,312.3 492.7,309.0 C488.8,305.7 484.5,302.3 480.0,300.0 C475.5,297.7 469.5,296.5 465.5,295.3 C461.5,294.1 460.6,293.1 456.0,292.7 C451.4,292.3 444.0,292.2 438.0,292.7 C432.0,293.2 425.2,294.6 420.0,295.5 C414.8,296.4 411.4,295.8 406.5,298.3 C401.6,300.8 395.1,303.4 390.3,310.5 C385.6,317.6 380.1,335.9 378.0,341.0 L365,341 Z" fill="url(#filmg)" filter="url(#bl1e)"/>
<path d="M365.0,300.0 C365.5,296.7 366.9,286.2 368.0,280.0 C369.1,273.8 370.2,267.5 371.8,262.7 C373.4,257.9 375.0,255.3 377.6,251.2 C380.2,247.1 383.6,242.1 387.7,238.0 C391.8,233.9 397.4,229.2 402.2,226.6 C407.0,224.0 411.0,223.5 416.6,222.5 C422.2,221.5 429.4,220.7 436.0,220.5 C442.6,220.3 449.4,220.3 456.0,221.5 C462.6,222.7 470.4,224.3 475.6,227.6 C480.8,230.9 484.3,237.6 487.4,241.3 C490.5,245.0 491.8,245.9 494.2,250.0 C496.6,254.1 499.8,260.4 502.0,265.6 C504.2,270.8 505.7,276.1 507.2,281.3 C508.7,286.5 510.1,291.7 511.2,296.9 C512.3,302.1 512.9,307.3 513.8,312.5 C514.7,317.7 515.7,323.2 516.4,328.0 C517.1,332.8 517.7,338.8 518.0,341.0 L514.5,341.0 C513.9,339.3 512.7,334.5 510.9,331.0 C509.1,327.5 506.6,323.7 503.6,320.0 C500.6,316.3 496.6,312.3 492.7,309.0 C488.8,305.7 484.5,302.3 480.0,300.0 C475.5,297.7 469.5,296.5 465.5,295.3 C461.5,294.1 460.6,293.1 456.0,292.7 C451.4,292.3 444.0,292.2 438.0,292.7 C432.0,293.2 425.2,294.6 420.0,295.5 C414.8,296.4 411.4,295.8 406.5,298.3 C401.6,300.8 395.1,303.4 390.3,310.5 C385.6,317.6 380.1,335.9 378.0,341.0 L365,341 Z" fill="url(#filmv)"/>
<clipPath id="filmclip"><path d="M365.0,300.0 C365.5,296.7 366.9,286.2 368.0,280.0 C369.1,273.8 370.2,267.5 371.8,262.7 C373.4,257.9 375.0,255.3 377.6,251.2 C380.2,247.1 383.6,242.1 387.7,238.0 C391.8,233.9 397.4,229.2 402.2,226.6 C407.0,224.0 411.0,223.5 416.6,222.5 C422.2,221.5 429.4,220.7 436.0,220.5 C442.6,220.3 449.4,220.3 456.0,221.5 C462.6,222.7 470.4,224.3 475.6,227.6 C480.8,230.9 484.3,237.6 487.4,241.3 C490.5,245.0 491.8,245.9 494.2,250.0 C496.6,254.1 499.8,260.4 502.0,265.6 C504.2,270.8 505.7,276.1 507.2,281.3 C508.7,286.5 510.1,291.7 511.2,296.9 C512.3,302.1 512.9,307.3 513.8,312.5 C514.7,317.7 515.7,323.2 516.4,328.0 C517.1,332.8 517.7,338.8 518.0,341.0 L514.5,341.0 C513.9,339.3 512.7,334.5 510.9,331.0 C509.1,327.5 506.6,323.7 503.6,320.0 C500.6,316.3 496.6,312.3 492.7,309.0 C488.8,305.7 484.5,302.3 480.0,300.0 C475.5,297.7 469.5,296.5 465.5,295.3 C461.5,294.1 460.6,293.1 456.0,292.7 C451.4,292.3 444.0,292.2 438.0,292.7 C432.0,293.2 425.2,294.6 420.0,295.5 C414.8,296.4 411.4,295.8 406.5,298.3 C401.6,300.8 395.1,303.4 390.3,310.5 C385.6,317.6 380.1,335.9 378.0,341.0 L365,341 Z"/></clipPath>
<g clip-path="url(#filmclip)"><ellipse cx="372" cy="318" rx="22" ry="40" fill="#8FAEC4" opacity="0.55" filter="url(#bl5)"/><ellipse cx="440" cy="266" rx="38" ry="24" fill="#5E8EA8" opacity="0.35" filter="url(#bl5)"/></g>
<path d="M367,340 L367.5,300 L371,285" fill="none" stroke="#C07060" stroke-width="2" opacity="0.6" filter="url(#bl1e)"/>
<g filter="url(#bl1e)" opacity="0.78">
<path d="M431,232 Q448,230.5 464.4,231 L464.4,240 Q448,239.5 431,241 Z" fill="url(#dots)"/>
<path d="M416,244 Q440,242.3 464.4,242.8 L464.4,253.9 Q440,253.4 416,255 Z" fill="url(#dots)"/>
<path d="M408,261.5 Q437,260 466.3,260.4 L466.3,273.4 Q437,273 408,274.5 Z" fill="url(#dots)"/>
<path d="M408,277 Q438,275.5 468,275.8 L468,287.3 Q438,287 408,288.5 Z" fill="url(#dots)"/>
</g>
<g opacity="0.6" filter="url(#bl1e)">
<line x1="472" y1="246" x2="478" y2="252" stroke="#B85A50" stroke-width="1.4"/>
<line x1="476" y1="256" x2="484" y2="262" stroke="#B85A50" stroke-width="1.4"/>
<line x1="480" y1="266" x2="488" y2="273" stroke="#B85A50" stroke-width="1.4"/>
<line x1="486" y1="278" x2="492" y2="288" stroke="#B85A50" stroke-width="1.4"/>
<line x1="490" y1="292" x2="496" y2="300" stroke="#B85A50" stroke-width="1.4"/>
<line x1="496" y1="300" x2="500" y2="308" stroke="#B85A50" stroke-width="1.4"/>
<line x1="500" y1="312" x2="504" y2="322" stroke="#B85A50" stroke-width="1.4"/>
<line x1="474" y1="236" x2="480" y2="240" stroke="#B85A50" stroke-width="1.4"/>
<line x1="484" y1="248" x2="490" y2="252" stroke="#B85A50" stroke-width="1.4"/>
<line x1="380" y1="262" x2="388" y2="258" stroke="#B85A50" stroke-width="1.4"/>
<line x1="378" y1="275" x2="384" y2="290" stroke="#B85A50" stroke-width="1.4"/>
<line x1="384" y1="296" x2="392" y2="290" stroke="#B85A50" stroke-width="1.4"/>
<line x1="372" y1="310" x2="378" y2="318" stroke="#B85A50" stroke-width="1.4"/>
<line x1="392" y1="300" x2="398" y2="310" stroke="#B85A50" stroke-width="1.4"/>
<line x1="386" y1="282" x2="396" y2="278" stroke="#B85A50" stroke-width="1.4"/>
<line x1="401" y1="266" x2="396" y2="286" stroke="#B85A50" stroke-width="1.4"/>
<line x1="505" y1="292" x2="509" y2="300" stroke="#B85A50" stroke-width="1.4"/>
<line x1="497" y1="270" x2="503" y2="276" stroke="#B85A50" stroke-width="1.4"/>
</g>
</g>
<text x="372.80" y="218.40" font-size="12.2" fill="#fff" text-anchor="start" >(e)</text>
<text x="401.60" y="239.40" font-size="10.5" fill="#fff" text-anchor="middle" >AZ 4620 PR</text>
<line x1="404" y1="247" x2="427.1" y2="269.5" stroke="#fff" stroke-width="1.3"/>
<text x="526.10" y="328.50" font-size="10.0" fill="#fff" text-anchor="middle" >5 mm</text>
<rect x="512" y="332" width="28.3" height="3.3" fill="#fff"/>
</svg></body></html>
